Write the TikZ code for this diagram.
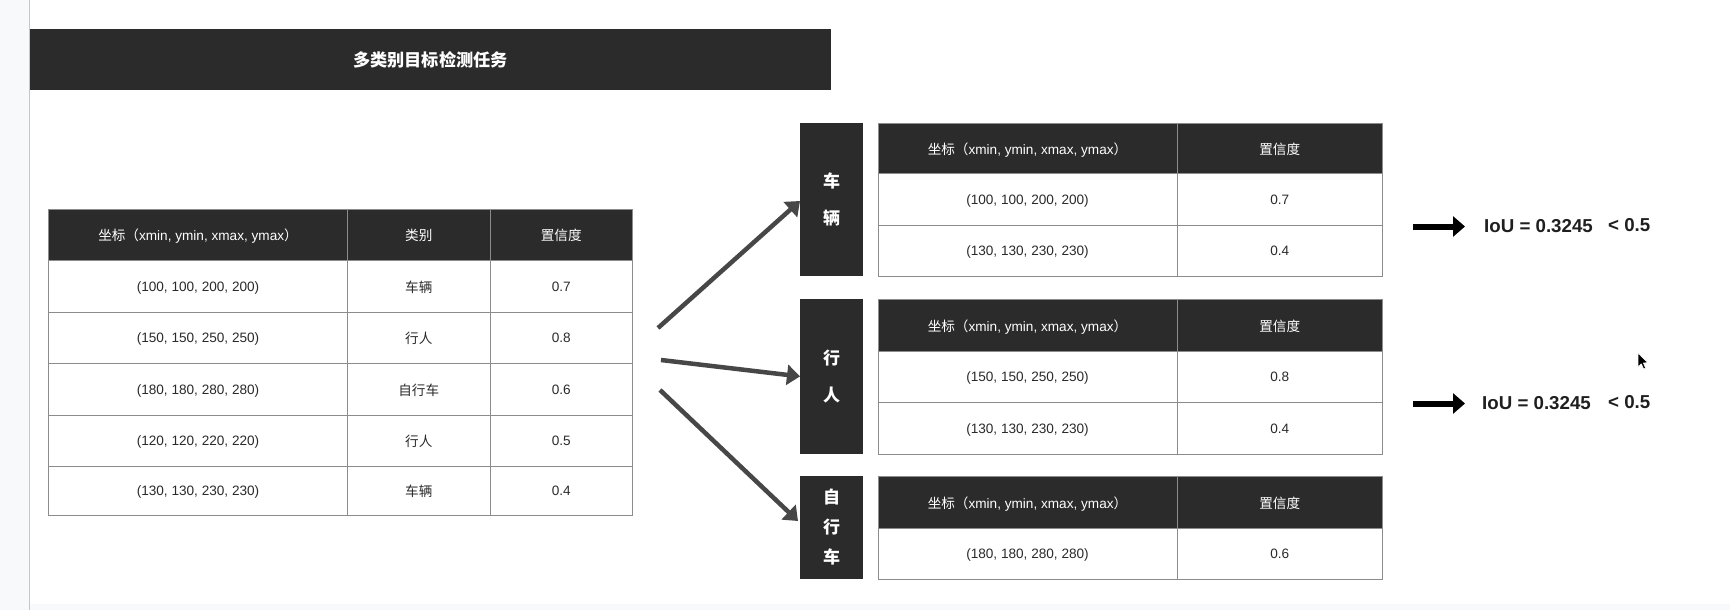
\documentclass[tikz,border=0pt]{standalone}
\usepackage{fontspec}
\setmainfont{Liberation Sans}
\newfontfamily\cjk{Noto Sans CJK SC}
\usetikzlibrary{arrows.meta}
\definecolor{hdr}{HTML}{2B2B2B}
\definecolor{gridc}{HTML}{8C8C8C}
\definecolor{txt}{HTML}{2A2A2A}
\definecolor{arr}{HTML}{474747}
\definecolor{side}{HTML}{F8F9FB}
\newcommand\tcell[7]{\node[#6, minimum width={(#4)-(#2)}, minimum height={(#5)-(#3)}] (#1) at ({((#2)+(#4))/2},{((#3)+(#5))/2}) {#7};}
\newcommand\coordhdr{{\cjk 坐标（}xmin, ymin, xmax, ymax{\cjk ）}}
\begin{document}
\begin{tikzpicture}[x=1pt,y=-1pt,
  cellbase/.style={rectangle, draw=gridc, line width=1pt, inner sep=0pt, outer sep=0pt, font=\fontsize{13.6}{16}\selectfont, align=center, text depth=0pt, yshift=-0.5pt},
  hdrcell/.style={cellbase, fill=hdr, text=white},
  bodycell/.style={cellbase, fill=white, text=txt},
  labbox/.style={rectangle, fill=hdr, draw=none, inner sep=0pt, outer sep=0pt, text=white, align=center},
  flow/.style={draw=arr, line width=4.5pt, -{Triangle[length=13pt,width=20pt]}},
  iouarr/.style={draw=black, line width=6pt, -{Triangle[length=12pt,width=20pt]}},
  ioutxt/.style={font=\bfseries\fontsize{18.7}{20}\selectfont, text=black!88, anchor=west, inner sep=0pt}]
\useasboundingbox (0,0) rectangle (1730,610);
\fill[white] (0,0) rectangle (1730,610);
\fill[side] (0,0) rectangle (29,610);
\fill[side] (30,604) rectangle (1730,610);
\draw[gridc!50, line width=1pt] (29.5,0) -- (29.5,610);

% title
\tcell{title}{30}{29.5}{831}{90.5}{labbox, font=\cjk\bfseries\fontsize{17.2}{20}\selectfont}{多类别目标检测任务}

% main table
\tcell{mh1}{48.5}{209}{347.5}{260}{hdrcell}{\coordhdr}
\tcell{mh2}{347.5}{209}{490}{260}{hdrcell}{\cjk 类别}
\tcell{mh3}{490}{209}{632.5}{260}{hdrcell}{\cjk 置信度}

\tcell{ma1}{48.5}{260}{347.5}{311.7}{bodycell}{(100, 100, 200, 200)}
\tcell{mb1}{347.5}{260}{490}{311.7}{bodycell}{\cjk 车辆}
\tcell{mc1}{490}{260}{632.5}{311.7}{bodycell}{0.7}

\tcell{ma2}{48.5}{311.7}{347.5}{363.3}{bodycell}{(150, 150, 250, 250)}
\tcell{mb2}{347.5}{311.7}{490}{363.3}{bodycell}{\cjk 行人}
\tcell{mc2}{490}{311.7}{632.5}{363.3}{bodycell}{0.8}

\tcell{ma3}{48.5}{363.3}{347.5}{414.7}{bodycell}{(180, 180, 280, 280)}
\tcell{mb3}{347.5}{363.3}{490}{414.7}{bodycell}{\cjk 自行车}
\tcell{mc3}{490}{363.3}{632.5}{414.7}{bodycell}{0.6}

\tcell{ma4}{48.5}{414.7}{347.5}{466}{bodycell}{(120, 120, 220, 220)}
\tcell{mb4}{347.5}{414.7}{490}{466}{bodycell}{\cjk 行人}
\tcell{mc4}{490}{414.7}{632.5}{466}{bodycell}{0.5}

\tcell{ma5}{48.5}{466}{347.5}{515}{bodycell}{(130, 130, 230, 230)}
\tcell{mb5}{347.5}{466}{490}{515}{bodycell}{\cjk 车辆}
\tcell{mc5}{490}{466}{632.5}{515}{bodycell}{0.4}

% label boxes
\tcell{lab1}{800}{122.5}{863}{276}{labbox, font=\cjk\bfseries\fontsize{17}{37}\selectfont}{车\\辆}
\tcell{lab2}{800}{299.3}{863}{453.5}{labbox, font=\cjk\bfseries\fontsize{17}{37}\selectfont}{行\\人}
\tcell{lab3}{800}{476}{863}{578.5}{labbox, font=\cjk\bfseries\fontsize{17}{30}\selectfont}{自\\行\\车}

% table 1
\tcell{ah1}{878}{122.5}{1177}{173.3}{hdrcell}{\coordhdr}
\tcell{ah2}{1177}{122.5}{1382.5}{173.3}{hdrcell}{\cjk 置信度}
\tcell{aa1}{878}{173.3}{1177}{225}{bodycell}{(100, 100, 200, 200)}
\tcell{ab1}{1177}{173.3}{1382.5}{225}{bodycell}{0.7}
\tcell{aa2}{878}{225}{1177}{276}{bodycell}{(130, 130, 230, 230)}
\tcell{ab2}{1177}{225}{1382.5}{276}{bodycell}{0.4}

% table 2
\tcell{bh1}{878}{299.3}{1177}{350.7}{hdrcell}{\coordhdr}
\tcell{bh2}{1177}{299.3}{1382.5}{350.7}{hdrcell}{\cjk 置信度}
\tcell{ba1}{878}{350.7}{1177}{402.3}{bodycell}{(150, 150, 250, 250)}
\tcell{bb1}{1177}{350.7}{1382.5}{402.3}{bodycell}{0.8}
\tcell{ba2}{878}{402.3}{1177}{453.5}{bodycell}{(130, 130, 230, 230)}
\tcell{bb2}{1177}{402.3}{1382.5}{453.5}{bodycell}{0.4}

% table 3
\tcell{ch1}{878}{476}{1177}{528}{hdrcell}{\coordhdr}
\tcell{ch2}{1177}{476}{1382.5}{528}{hdrcell}{\cjk 置信度}
\tcell{ca1}{878}{528}{1177}{578.5}{bodycell}{(180, 180, 280, 280)}
\tcell{cb1}{1177}{528}{1382.5}{578.5}{bodycell}{0.6}

% flow arrows
\coordinate (s1) at (658,328);
\coordinate (s2) at (661,360);
\coordinate (s3) at (660,390);
\coordinate (e3) at (798,521);
\draw[flow] (s1) -- (lab1.west |- 0,201);
\draw[flow] (s2) -- (lab2.west);
\draw[flow] (s3) -- (e3);

% IoU results
\coordinate (i1s) at (1413,226.5);
\coordinate (i1e) at (1465,226.5);
\coordinate (i2s) at (1413,403.5);
\coordinate (i2e) at (1465,403.5);
\draw[iouarr] (i1s) -- (i1e);
\draw[iouarr] (i2s) -- (i2e);
\node[ioutxt] (iou1) at (1484,226) {IoU = 0.3245};
\node[ioutxt] (lt1) at (1608,225) {< 0.5};
\node[ioutxt] (iou2) at (1482,403) {IoU = 0.3245};
\node[ioutxt] (lt2) at (1608,402) {< 0.5};

% mouse cursor
\filldraw[fill=black, draw=white, line width=0.6pt, line join=round]
  (1638,353) -- (1638,367) -- (1641.3,363.8) -- (1643.6,369) -- (1645.6,368.1) -- (1643.4,363) -- (1647.8,362.6) -- cycle;
\end{tikzpicture}
\end{document}
